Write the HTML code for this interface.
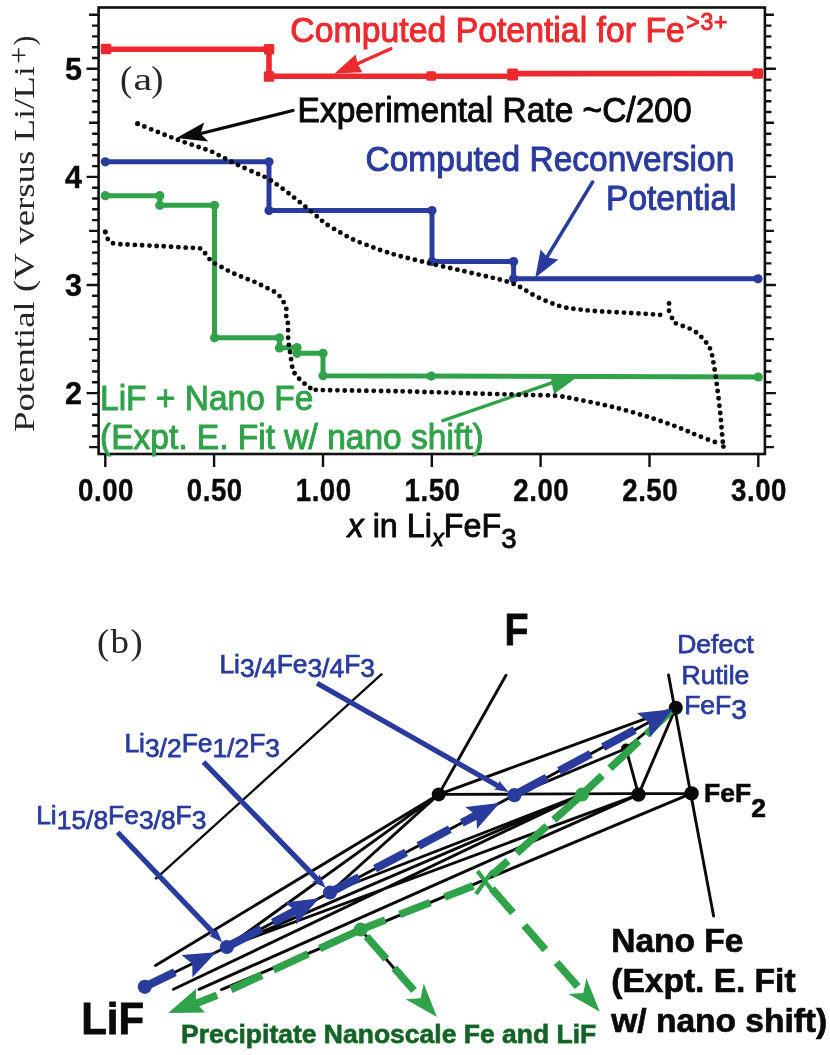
<!DOCTYPE html>
<html><head><meta charset="utf-8"><title>Figure</title>
<style>html,body{margin:0;padding:0;background:#fff;}svg{display:block;filter:blur(0.45px);}</style>
</head><body>
<svg width="830" height="1055" viewBox="0 0 830 1055">
<path d="M89.1,447.1 H98.6 M764.9,447.1 H773.9 M92.1,436.3 H98.6 M764.9,436.3 H771.4 M92.1,425.5 H98.6 M764.9,425.5 H771.4 M92.1,414.7 H98.6 M764.9,414.7 H771.4 M92.1,403.9 H98.6 M764.9,403.9 H771.4 M86.6,393.1 H98.6 M764.9,393.1 H775.9 M92.1,382.3 H98.6 M764.9,382.3 H771.4 M92.1,371.5 H98.6 M764.9,371.5 H771.4 M92.1,360.7 H98.6 M764.9,360.7 H771.4 M92.1,349.9 H98.6 M764.9,349.9 H771.4 M89.1,339.1 H98.6 M764.9,339.1 H773.9 M92.1,328.2 H98.6 M764.9,328.2 H771.4 M92.1,317.4 H98.6 M764.9,317.4 H771.4 M92.1,306.6 H98.6 M764.9,306.6 H771.4 M92.1,295.8 H98.6 M764.9,295.8 H771.4 M86.6,285 H98.6 M764.9,285 H775.9 M92.1,274.2 H98.6 M764.9,274.2 H771.4 M92.1,263.4 H98.6 M764.9,263.4 H771.4 M92.1,252.6 H98.6 M764.9,252.6 H771.4 M92.1,241.8 H98.6 M764.9,241.8 H771.4 M89.1,230.9 H98.6 M764.9,230.9 H773.9 M92.1,220.1 H98.6 M764.9,220.1 H771.4 M92.1,209.3 H98.6 M764.9,209.3 H771.4 M92.1,198.5 H98.6 M764.9,198.5 H771.4 M92.1,187.7 H98.6 M764.9,187.7 H771.4 M86.6,176.9 H98.6 M764.9,176.9 H775.9 M92.1,166.1 H98.6 M764.9,166.1 H771.4 M92.1,155.3 H98.6 M764.9,155.3 H771.4 M92.1,144.5 H98.6 M764.9,144.5 H771.4 M92.1,133.7 H98.6 M764.9,133.7 H771.4 M89.1,122.8 H98.6 M764.9,122.8 H773.9 M92.1,112 H98.6 M764.9,112 H771.4 M92.1,101.2 H98.6 M764.9,101.2 H771.4 M92.1,90.4 H98.6 M764.9,90.4 H771.4 M92.1,79.6 H98.6 M764.9,79.6 H771.4 M86.6,68.8 H98.6 M764.9,68.8 H775.9 M92.1,58 H98.6 M764.9,58 H771.4 M92.1,47.2 H98.6 M764.9,47.2 H771.4 M92.1,36.4 H98.6 M764.9,36.4 H771.4 M92.1,25.6 H98.6 M764.9,25.6 H771.4 M89.1,14.8 H98.6 M764.9,14.8 H773.9 M105.3,454 V467 M214.1,454 V467 M323,454 V467 M431.8,454 V467 M540.6,454 V467 M649.5,454 V467 M758.3,454 V467" stroke="#111" stroke-width="2.4" fill="none"/>
<rect x="98.6" y="7.5" width="666.3" height="446.5" fill="none" stroke="#111" stroke-width="2.6"/>
<path d="M105.3,49.3 L269,49.3 L269,76.3 L512.6,76.3" fill="none" stroke="#ec2a2d" stroke-width="5.6"/>
<path d="M512.6,73.6 L757.8,73.5" fill="none" stroke="#ec2a2d" stroke-width="5.6"/>
<rect x="100.8" y="43.8" width="10.5" height="10.5" rx="1.5" fill="#ec2a2d"/>
<rect x="263.8" y="44" width="10.5" height="10.5" rx="1.5" fill="#ec2a2d"/>
<rect x="263.8" y="71.3" width="10.5" height="10.5" rx="1.5" fill="#ec2a2d"/>
<rect x="426.4" y="71.3" width="9.5" height="9.5" rx="1.5" fill="#ec2a2d"/>
<rect x="507.1" y="68.5" width="11" height="12" rx="1.5" fill="#ec2a2d"/>
<rect x="752.5" y="68.2" width="10.5" height="10.5" rx="1.5" fill="#ec2a2d"/>
<line x1="390.8" y1="48.7" x2="358" y2="63.5" stroke="#ec2a2d" stroke-width="3.4" stroke-linecap="round"/>
<polygon points="334.5,73.6 355.7,54.5 357.5,63.8 362.4,72.3" fill="#ec2a2d"/>
<path d="M105.3,161.8 L269,161.8 L269,210.6 L432,210.6 L432,261.5 L513.6,261.5 L513.6,278.8 L758,278.8" fill="none" stroke="#2a3b9e" stroke-width="5.0"/>
<circle cx="105.3" cy="161.8" r="4.6" fill="#2a3b9e"/>
<circle cx="269" cy="161.8" r="4.6" fill="#2a3b9e"/>
<circle cx="269" cy="210.6" r="4.6" fill="#2a3b9e"/>
<circle cx="432" cy="210.6" r="4.6" fill="#2a3b9e"/>
<circle cx="432" cy="261.5" r="4.6" fill="#2a3b9e"/>
<circle cx="513.6" cy="261.5" r="4.6" fill="#2a3b9e"/>
<circle cx="513.6" cy="278.8" r="4.6" fill="#2a3b9e"/>
<circle cx="758" cy="278.8" r="4.6" fill="#2a3b9e"/>
<line x1="592.6" y1="182" x2="547" y2="257" stroke="#2a3b9e" stroke-width="3.4" stroke-linecap="round"/>
<polygon points="535.2,277.8 540.6,249.6 547.5,257.5 558.4,259.6" fill="#2a3b9e"/>
<path d="M105.3,195.7 L159.8,195.7 L159.8,205.3 L214.5,205.3 L214.5,337.8 L279.5,337.8 L279.5,348 L297,347.5 L297,353.3 L323,353.3 L323,375.7 L758.3,377" fill="none" stroke="#30a24a" stroke-width="5.0"/>
<circle cx="105.3" cy="195.7" r="4.6" fill="#30a24a"/>
<circle cx="159.8" cy="195.7" r="4.6" fill="#30a24a"/>
<circle cx="159.8" cy="205.3" r="4.6" fill="#30a24a"/>
<circle cx="214.5" cy="205.3" r="4.6" fill="#30a24a"/>
<circle cx="214.5" cy="337.8" r="4.6" fill="#30a24a"/>
<circle cx="279.5" cy="337.8" r="4.6" fill="#30a24a"/>
<circle cx="279.5" cy="348" r="4.6" fill="#30a24a"/>
<circle cx="297" cy="347.5" r="4.6" fill="#30a24a"/>
<circle cx="297" cy="353.3" r="4.6" fill="#30a24a"/>
<circle cx="323" cy="353.3" r="4.6" fill="#30a24a"/>
<circle cx="323" cy="375.7" r="4.6" fill="#30a24a"/>
<circle cx="758.3" cy="377" r="4.6" fill="#30a24a"/>
<circle cx="431.3" cy="376.1" r="4.6" fill="#30a24a"/>
<line x1="442.9" y1="420.7" x2="551.7" y2="382.9" stroke="#30a24a" stroke-width="3.4" stroke-linecap="round"/>
<polygon points="575,378.8 551,377.5 551.7,382.9 554,394" fill="#30a24a"/>
<path d="M137.6,123.8 C140.2,124.9 148.2,128.1 153.3,130.2 C158.4,132.2 163.3,134.3 168,136.1 C172.7,137.9 176.6,139.5 181.4,141.2 C186.2,142.9 191.7,144.6 196.6,146.3 C201.5,148 206.2,149.2 211,151.3 C215.8,153.4 220.5,156.2 225.3,158.6 C230.1,161 234.7,163.3 239.6,165.7 C244.5,168 251,171 254.8,172.7 C258.6,174.4 259.9,174.6 262.4,175.8 C264.9,177 267.7,178.6 270,180 C272.3,181.4 272.9,181.7 276.3,184.1 C279.7,186.5 285.7,191 290.4,194.7 C295.1,198.3 299.8,202.2 304.5,206 C309.2,209.8 315,214.8 318.6,217.8 C322.2,220.8 322.5,221.5 326.1,224 C329.8,226.5 335.8,229.9 340.5,232.6 C345.2,235.3 349.8,238 354.6,240.2 C359.4,242.4 364.7,244.2 369.5,246 C374.3,247.8 378.8,249.5 383.5,251.1 C388.2,252.7 389.8,253.3 397.6,255.4 C405.5,257.5 417.5,260.5 430.6,263.6 C443.7,266.7 462.5,270.7 476.1,274 C489.7,277.3 502.2,279.6 512.3,283.4 C522.3,287.2 528.4,292.8 536.4,296.6 C544.4,300.4 553.2,304.2 560.5,306.3 C567.8,308.4 574,308.7 580,309.5 C586,310.3 586.6,310.4 596.6,311.1 C606.6,311.8 628.6,312.8 640,313.5 C651.4,314.2 660.9,314.9 665.1,315.2" stroke="#0a0a0a" stroke-width="4.9" stroke-linecap="round" stroke-dasharray="0 7.25" fill="none"/>
<path d="M669,303.5 C669,305.5 669,313.5 669,315.5" stroke="#0a0a0a" stroke-width="4.9" stroke-linecap="round" stroke-dasharray="0 7.25" fill="none"/>
<path d="M672,318 C672.5,318.8 671.2,320.7 674.8,322.8 C678.3,324.9 688.4,327.5 693.3,330.4 C698.2,333.3 701.2,336.9 704.1,340.1 C707,343.4 709,345.7 710.6,349.9 C712.2,354.1 712.8,359 713.9,365.1 C715,371.2 716,378.4 717.1,386.7 C718.2,395 719.5,406.2 720.4,414.9 C721.3,423.6 722,433.4 722.5,438.8 C723,444.2 723.4,446.1 723.6,447.5" stroke="#0a0a0a" stroke-width="4.9" stroke-linecap="round" stroke-dasharray="0 7.25" fill="none"/>
<path d="M105.3,232 C105.8,233.3 106.9,238.1 108.4,240 C109.9,241.9 111.1,242.8 114.5,243.6 C117.9,244.4 121.7,244.2 128.9,244.6 C136.1,245 148.2,245.5 157.8,246 C167.4,246.5 179.5,247.2 186.7,247.7 C193.9,248.1 197.5,247.3 200.9,248.7 C204.3,250.1 205,253.9 207,256.2 C209,258.4 210.5,260.5 212.8,262.2 C215.1,263.9 218.1,265.1 220.7,266.5 C223.3,267.9 225.8,269.5 228.2,270.8 C230.6,272.1 232.9,273.1 235.3,274.1 C237.7,275.2 240.2,276.1 242.6,277.1 C245,278.1 247.5,279.1 249.9,280.1 C252.3,281.1 254.8,281.9 257.2,283 C259.6,284.1 261.8,285.5 264.2,286.7 C266.6,287.9 269.1,288.6 271.5,290 C273.9,291.4 276.5,293.1 278.5,295 C280.5,296.9 282.1,299.3 283.4,301.7 C284.7,304.1 285.9,306.7 286.4,309.2 C286.9,311.7 286,314.4 286.3,316.9 C286.6,319.4 287.7,320.6 288,324.3 C288.3,328 287.8,334.3 288.2,339.3 C288.6,344.3 289.6,349.2 290.4,354.2 C291.2,359.2 291.7,365.5 292.8,369.2 C293.9,372.9 295.2,374.1 297.1,376.4 C299,378.7 301.6,381.1 303.9,383.1 C306.2,385.1 308.3,387.2 311,388.4 C313.7,389.5 305.2,389.5 320,390 C334.8,390.5 370,390.6 400,391.3 C430,392 478.6,393.6 500,394.2 C521.4,394.8 518.7,394.7 528.2,395 C537.7,395.3 548.3,395 557.1,395.9 C565.9,396.8 571.6,398.3 581.2,400.2 C590.8,402.1 603.6,404.7 614.9,407.5 C626.1,410.3 637.9,413.7 648.7,417.1 C659.6,420.5 671.9,424.9 680,428 C688.1,431.1 691.6,433.1 697.6,435.5 C703.6,437.9 712.9,441.3 716,442.5" stroke="#0a0a0a" stroke-width="4.9" stroke-linecap="round" stroke-dasharray="0 7.25" fill="none"/>
<circle cx="723.4" cy="446.6" r="2.45" fill="#0a0a0a"/>
<circle cx="105.3" cy="232" r="2.45" fill="#0a0a0a"/>
<circle cx="137.6" cy="123.8" r="2.45" fill="#0a0a0a"/>
<line x1="293" y1="110.5" x2="200" y2="133.8" stroke="#0a0a0a" stroke-width="3.2" stroke-linecap="round"/>
<polygon points="176.4,137.9 204.2,122.4 200.5,133.6 208.4,141.4" fill="#0a0a0a"/>
<text transform="translate(290.3,41.5) scale(0.958,1)" font-family="Liberation Sans, Arial, sans-serif" font-size="35.3" fill="#ec2a2d" stroke="#ec2a2d" stroke-width="1.0" stroke-linejoin="round">Computed Potential for Fe<tspan font-size="24" dx="1.5" dy="-11.5" letter-spacing="0.8">&gt;3+</tspan></text>
<text transform="translate(297.6,122) scale(0.95,1)" font-family="Liberation Sans, Arial, sans-serif" font-size="35.3" fill="#0a0a0a" stroke="#0a0a0a" stroke-width="1.0" stroke-linejoin="round">Experimental Rate ~C/200</text>
<text transform="translate(365.5,171) scale(0.95,1)" font-family="Liberation Sans, Arial, sans-serif" font-size="35.3" fill="#2a3b9e" stroke="#2a3b9e" stroke-width="1.0" stroke-linejoin="round">Computed Reconversion</text>
<text transform="translate(736.5,210) scale(0.95,1)" font-family="Liberation Sans, Arial, sans-serif" font-size="35.3" fill="#2a3b9e" text-anchor="end" stroke="#2a3b9e" stroke-width="1.0" stroke-linejoin="round">Potential</text>
<text transform="translate(100,410) scale(0.95,1)" font-family="Liberation Sans, Arial, sans-serif" font-size="35.3" fill="#30a24a" stroke="#30a24a" stroke-width="1.0" stroke-linejoin="round">LiF + Nano Fe</text>
<text transform="translate(100,448.7) scale(0.95,1)" font-family="Liberation Sans, Arial, sans-serif" font-size="35.3" fill="#30a24a" stroke="#30a24a" stroke-width="1.0" stroke-linejoin="round">(Expt. E. Fit w/ nano shift)</text>
<g font-family="Liberation Serif, Times New Roman, serif" fill="#262626"><text x="120" y="91" font-size="36.5">(</text><text transform="translate(133.4,89.8) scale(1.36,1)" font-size="31">a</text><text x="151.2" y="91" font-size="36.5">)</text></g>
<text transform="translate(82,80) scale(0.95,1)" font-family="Liberation Sans, Arial, sans-serif" font-size="32.2" fill="#0a0a0a" font-weight="bold" text-anchor="end" stroke="#0a0a0a" stroke-width="0.4" stroke-linejoin="round">5</text>
<text transform="translate(82,188.1) scale(0.95,1)" font-family="Liberation Sans, Arial, sans-serif" font-size="32.2" fill="#0a0a0a" font-weight="bold" text-anchor="end" stroke="#0a0a0a" stroke-width="0.4" stroke-linejoin="round">4</text>
<text transform="translate(82,296.2) scale(0.95,1)" font-family="Liberation Sans, Arial, sans-serif" font-size="32.2" fill="#0a0a0a" font-weight="bold" text-anchor="end" stroke="#0a0a0a" stroke-width="0.4" stroke-linejoin="round">3</text>
<text transform="translate(82,404.3) scale(0.95,1)" font-family="Liberation Sans, Arial, sans-serif" font-size="32.2" fill="#0a0a0a" font-weight="bold" text-anchor="end" stroke="#0a0a0a" stroke-width="0.4" stroke-linejoin="round">2</text>
<text transform="translate(106,500.6) scale(0.86,1)" font-family="Liberation Sans, Arial, sans-serif" font-size="32.2" fill="#0a0a0a" font-weight="bold" text-anchor="middle" stroke="#0a0a0a" stroke-width="0.4" stroke-linejoin="round" letter-spacing="0.6">0.00</text>
<text transform="translate(214.8,500.6) scale(0.86,1)" font-family="Liberation Sans, Arial, sans-serif" font-size="32.2" fill="#0a0a0a" font-weight="bold" text-anchor="middle" stroke="#0a0a0a" stroke-width="0.4" stroke-linejoin="round" letter-spacing="0.6">0.50</text>
<text transform="translate(323.7,500.6) scale(0.86,1)" font-family="Liberation Sans, Arial, sans-serif" font-size="32.2" fill="#0a0a0a" font-weight="bold" text-anchor="middle" stroke="#0a0a0a" stroke-width="0.4" stroke-linejoin="round" letter-spacing="0.6">1.00</text>
<text transform="translate(432.5,500.6) scale(0.86,1)" font-family="Liberation Sans, Arial, sans-serif" font-size="32.2" fill="#0a0a0a" font-weight="bold" text-anchor="middle" stroke="#0a0a0a" stroke-width="0.4" stroke-linejoin="round" letter-spacing="0.6">1.50</text>
<text transform="translate(541.3,500.6) scale(0.86,1)" font-family="Liberation Sans, Arial, sans-serif" font-size="32.2" fill="#0a0a0a" font-weight="bold" text-anchor="middle" stroke="#0a0a0a" stroke-width="0.4" stroke-linejoin="round" letter-spacing="0.6">2.00</text>
<text transform="translate(650.2,500.6) scale(0.86,1)" font-family="Liberation Sans, Arial, sans-serif" font-size="32.2" fill="#0a0a0a" font-weight="bold" text-anchor="middle" stroke="#0a0a0a" stroke-width="0.4" stroke-linejoin="round" letter-spacing="0.6">2.50</text>
<text transform="translate(759,500.6) scale(0.86,1)" font-family="Liberation Sans, Arial, sans-serif" font-size="32.2" fill="#0a0a0a" font-weight="bold" text-anchor="middle" stroke="#0a0a0a" stroke-width="0.4" stroke-linejoin="round" letter-spacing="0.6">3.00</text>
<text transform="translate(347.5,537) scale(0.985,1)" font-family="Liberation Sans, Arial, sans-serif" font-size="32.8" fill="#0a0a0a" stroke="#0a0a0a" stroke-width="0.9" stroke-linejoin="round"><tspan font-style="italic">x</tspan> in Li<tspan font-style="italic" font-size="24" dy="9.2">x</tspan><tspan dy="-9.2">FeF</tspan><tspan font-size="28" dy="11.3">3</tspan></text>
<g transform="translate(33.5,432) rotate(-90)" font-family="Liberation Serif, Times New Roman, serif" fill="#262626"><text x="0" y="0" font-size="29.5" textLength="366" lengthAdjust="spacingAndGlyphs">Potential (V versus Li/Li</text><text x="376.8" y="-5.2" font-size="30" text-anchor="middle">+</text><text x="386.5" y="0" font-size="29.5">)</text></g>
<line x1="382.2" y1="673.7" x2="155.3" y2="879.2" stroke="#0a0a0a" stroke-width="2.3"/>
<path d="M438.7,794.4 L506,675.2 M438.7,794.4 L691.6,793.4 M668.5,675 L713.6,916 M438.7,794.4 L675.8,707.7 M638.5,794.6 L675.8,707.7 M626,748.5 L638.5,794.6 M626,748.5 L675.8,707.7 M155.5,965.6 L438.7,794.4 M438.7,794.4 L226.8,947 M438.7,794.4 L330,892.5 M144.8,986.8 L226.8,947 M226.8,947 L330,892.5 M330,892.5 L514.3,795.2 M514.3,795.2 L675.8,707.7 M330,892.5 L582,794.6 M514.3,795.2 L626,748.5 M226.8,947 L582,794.6 M226.8,947 L638.5,794.6 M173.5,989.3 L582,794.6 M199,989.3 L638.5,794.6 M221.5,989.6 L691.6,793.4 M360.7,929.6 L405,981" stroke="#0a0a0a" stroke-width="2.9" fill="none" stroke-linecap="round"/>
<circle cx="438.7" cy="794.4" r="7" fill="#0a0a0a"/>
<circle cx="638.5" cy="794.6" r="7.2" fill="#0a0a0a"/>
<circle cx="691.6" cy="793.4" r="7.2" fill="#0a0a0a"/>
<circle cx="675.8" cy="707.7" r="7" fill="#0a0a0a"/>
<circle cx="626" cy="748.5" r="5" fill="#0a0a0a"/>
<line x1="317.1" y1="683.2" x2="502.1" y2="788.3" stroke="#2a3b9e" stroke-width="5.2"/>
<polygon points="508.6,792 493.9,789.6 499.1,786.6 499,780.6" fill="#2a3b9e"/>
<line x1="203.5" y1="762" x2="320.3" y2="882.4" stroke="#2a3b9e" stroke-width="5.2"/>
<polygon points="325.5,887.8 312,881.4 317.8,879.9 319.5,874.2" fill="#2a3b9e"/>
<line x1="117.6" y1="832.2" x2="217.2" y2="936.9" stroke="#2a3b9e" stroke-width="5.2"/>
<polygon points="222.3,942.3 208.9,935.7 214.7,934.3 216.4,928.6" fill="#2a3b9e"/>
<line x1="231" y1="989.5" x2="261.9" y2="975.2" stroke="#30a24a" stroke-width="7.6"/>
<line x1="273.5" y1="969.9" x2="308.2" y2="953.9" stroke="#30a24a" stroke-width="7.6"/>
<line x1="319.7" y1="948.5" x2="360.7" y2="929.6" stroke="#30a24a" stroke-width="7.6"/>
<line x1="360.7" y1="929.6" x2="385.3" y2="920" stroke="#30a24a" stroke-width="7.6"/>
<line x1="399.6" y1="914.5" x2="430.4" y2="902.5" stroke="#30a24a" stroke-width="7.6"/>
<line x1="444.6" y1="897" x2="473.3" y2="885.9" stroke="#30a24a" stroke-width="7.6"/>
<line x1="492" y1="875.2" x2="508" y2="860.9" stroke="#30a24a" stroke-width="7.6"/>
<line x1="516.6" y1="853.2" x2="547" y2="826" stroke="#30a24a" stroke-width="7.6"/>
<line x1="553.8" y1="819.8" x2="582" y2="794.6" stroke="#30a24a" stroke-width="7.6"/>
<line x1="582" y1="794.6" x2="602.3" y2="775.6" stroke="#30a24a" stroke-width="7.6"/>
<line x1="610" y1="768.3" x2="639" y2="741.1" stroke="#30a24a" stroke-width="7.6"/>
<line x1="646.1" y1="734.4" x2="671" y2="711" stroke="#30a24a" stroke-width="7.6"/>
<line x1="217" y1="995.3" x2="196" y2="1003.5" stroke="#30a24a" stroke-width="7.6"/>
<polygon points="168.2,1013.1 196,988.7 195.9,1002.4 205.1,1012.4" fill="#30a24a"/>
<line x1="366.6" y1="936.4" x2="386.3" y2="959" stroke="#30a24a" stroke-width="7.6"/>
<line x1="394.2" y1="968" x2="414" y2="990.6" stroke="#30a24a" stroke-width="7.6"/>
<polygon points="437,1017 405.6,999.3 420.6,998.2 423.7,983.5" fill="#30a24a"/>
<line x1="491.9" y1="888.8" x2="513" y2="912.8" stroke="#30a24a" stroke-width="7.6"/>
<line x1="524.3" y1="925.6" x2="545.4" y2="949.7" stroke="#30a24a" stroke-width="7.6"/>
<line x1="556.6" y1="962.4" x2="577.7" y2="986.5" stroke="#30a24a" stroke-width="7.6"/>
<polygon points="599.8,1011.7 568.4,994.1 583.3,992.9 586.4,978.2" fill="#30a24a"/>
<circle cx="582" cy="794.6" r="7" fill="#30a24a"/>
<circle cx="360.7" cy="929.6" r="7" fill="#30a24a"/>
<line x1="144.8" y1="986.8" x2="174.9" y2="972.2" stroke="#2a3b9e" stroke-width="8.2"/>
<polygon points="216.2,952.2 192.4,977.6 192.3,963.7 181.5,955.1" fill="#2a3b9e"/>
<line x1="226.8" y1="947" x2="261.3" y2="928.8" stroke="#2a3b9e" stroke-width="8.2"/>
<line x1="272.8" y1="922.7" x2="296.7" y2="910.1" stroke="#2a3b9e" stroke-width="8.2"/>
<polygon points="319.1,898.2 296.2,924.5 295.7,910.6 284.5,902.4" fill="#2a3b9e"/>
<line x1="330" y1="892.5" x2="359.2" y2="877.1" stroke="#2a3b9e" stroke-width="8.2"/>
<line x1="375.1" y1="868.7" x2="406.1" y2="852.3" stroke="#2a3b9e" stroke-width="8.2"/>
<line x1="418.4" y1="845.8" x2="449.9" y2="829.2" stroke="#2a3b9e" stroke-width="8.2"/>
<line x1="461.8" y1="822.9" x2="476.8" y2="815" stroke="#2a3b9e" stroke-width="8.2"/>
<polygon points="499.8,802.9 476.9,829.1 476.4,815.2 465.2,807" fill="#2a3b9e"/>
<line x1="514.3" y1="795.2" x2="546.8" y2="777.6" stroke="#2a3b9e" stroke-width="8.2"/>
<line x1="559.1" y1="770.9" x2="590.8" y2="753.8" stroke="#2a3b9e" stroke-width="8.2"/>
<line x1="603.1" y1="747.1" x2="634.8" y2="729.9" stroke="#2a3b9e" stroke-width="8.2"/>
<polygon points="672.9,709.3 650,737.4 648.7,722.4 636.9,713.1" fill="#2a3b9e"/>
<circle cx="144.8" cy="986.8" r="7.1" fill="#2a3b9e"/>
<circle cx="226.8" cy="947" r="7.1" fill="#2a3b9e"/>
<circle cx="330" cy="892.5" r="7.1" fill="#2a3b9e"/>
<circle cx="514.3" cy="795.2" r="7.1" fill="#2a3b9e"/>
<path d="M477.5,871 L494.5,894 M492.5,871 L476,894" stroke="#30a24a" stroke-width="4.2" fill="none"/>
<g font-family="Liberation Serif, Times New Roman, serif" fill="#262626"><text x="97.1" y="654.1" font-size="36.5">(</text><text transform="translate(110.6,652.9) scale(1.12,1)" font-size="33">b</text><text x="130.5" y="654.1" font-size="36.5">)</text></g>
<text transform="translate(504.5,644.6) scale(0.88,1)" font-family="Liberation Sans, Arial, sans-serif" font-weight="bold" font-size="44.7" fill="#0a0a0a" stroke="#0a0a0a" stroke-width="0.8">F</text>
<text x="219.4" y="672.5" font-family="Liberation Sans, Arial, sans-serif" font-size="26.4" fill="#2a3b9e" stroke="#2a3b9e" stroke-width="0.75"><tspan>Li</tspan><tspan dy="4.8">3/4</tspan><tspan dy="-4.8">Fe</tspan><tspan dy="4.8">3/4</tspan><tspan dy="-4.8">F</tspan><tspan dy="4.8">3</tspan></text>
<text x="124.4" y="752" font-family="Liberation Sans, Arial, sans-serif" font-size="26.4" fill="#2a3b9e" stroke="#2a3b9e" stroke-width="0.75"><tspan>Li</tspan><tspan dy="4.8">3/2</tspan><tspan dy="-4.8">Fe</tspan><tspan dy="4.8">1/2</tspan><tspan dy="-4.8">F</tspan><tspan dy="4.8">3</tspan></text>
<text x="36.2" y="823.7" font-family="Liberation Sans, Arial, sans-serif" font-size="26.4" fill="#2a3b9e" stroke="#2a3b9e" stroke-width="0.75"><tspan>Li</tspan><tspan dy="4.8">15/8</tspan><tspan dy="-4.8">Fe</tspan><tspan dy="4.8">3/8</tspan><tspan dy="-4.8">F</tspan><tspan dy="4.8">3</tspan></text>
<text font-family="Liberation Sans, Arial, sans-serif" font-size="26.5" fill="#2a3b9e" stroke="#2a3b9e" stroke-width="0.75" text-anchor="middle"><tspan x="715.5" y="652.5">Defect</tspan><tspan x="715.5" y="683.8">Rutile</tspan><tspan x="715.5" y="714">FeF<tspan dy="5.2" font-size="28">3</tspan></tspan></text>
<text x="704" y="802" font-family="Liberation Sans, Arial, sans-serif" font-weight="bold" font-size="26.5" fill="#0a0a0a" stroke="#0a0a0a" stroke-width="0.6">FeF<tspan dy="15">2</tspan></text>
<text transform="translate(81.2,1034) scale(0.955,1)" font-family="Liberation Sans, Arial, sans-serif" font-weight="bold" font-size="44" fill="#0a0a0a" stroke="#0a0a0a" stroke-width="0.8">LiF</text>
<text font-family="Liberation Sans, Arial, sans-serif" font-weight="bold" font-size="33.5" fill="#0a0a0a" stroke="#0a0a0a" stroke-width="0.7"><tspan x="611.3" y="951.5">Nano Fe</tspan><tspan x="611.3" y="991.8">(Expt. E. Fit</tspan><tspan x="611.3" y="1032.2">w/ nano shift)</tspan></text>
<text x="181" y="1042.5" font-family="Liberation Sans, Arial, sans-serif" font-weight="bold" font-size="26.5" fill="#17602a" stroke="#2f8f41" stroke-width="0.8" paint-order="stroke">Precipitate Nanoscale Fe and LiF</text>
</svg>
</body></html>
